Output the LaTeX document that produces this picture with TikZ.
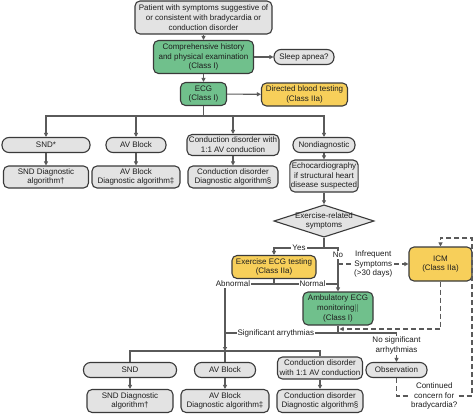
\documentclass[tikz,border=0pt]{standalone}
\usepackage{fontspec}
\setmainfont{Liberation Sans}
\setsansfont{Liberation Sans}
\usepackage{tikz}
\usetikzlibrary{arrows.meta,positioning,shapes.geometric,calc}
\definecolor{boxgray}{HTML}{E3E3E3}
\definecolor{edgegray}{HTML}{3A3A3A}
\definecolor{linegray}{HTML}{5A5A5A}
\definecolor{classgreen}{HTML}{70C08C}
\definecolor{classyellow}{HTML}{F7CF5A}
\definecolor{txt}{HTML}{1E1E1E}
\tikzset{
  stepbox/.style={
    rectangle, draw=edgegray, fill=#1, line width=1.1pt,
    rounded corners=5pt, text=txt, align=center,
    inner sep=1pt
  },
  stepbox/.default=boxgray,
  pillbox/.style={stepbox, rounded corners=7pt, minimum height=15pt},
  decision/.style={diamond, draw=edgegray, fill=boxgray, line width=1.1pt,
    aspect=3.1, inner xsep=-5.5pt, inner ysep=0pt, text=txt, align=center,
    minimum width=100pt, minimum height=32pt},
  flow/.style={
    -{Triangle[length=4pt,width=4pt]}, line width=1.1pt, draw=linegray
  },
  joinline/.style={line width=1.1pt, draw=linegray},
  dashflow/.style={flow, dash pattern=on 5pt off 3pt},
  edgelabel/.style={fill=white, inner sep=1pt, text=txt, align=center},
}

\begin{document}
\begin{tikzpicture}[
  x=1pt, y=-1pt,
  every node/.style={font=\fontsize{8}{9.8}\selectfont}
]
\useasboundingbox (0,0) rectangle (474,413);

\node[stepbox, minimum width=137pt, minimum height=33pt] (patient) at (203.5,17.5)
  {Patient with symptoms suggestive of\\or consistent with bradycardia or\\conduction disorder};
\node[stepbox=classgreen, minimum width=100pt, minimum height=33pt] (history) at (203.5,57)
  {Comprehensive history\\and physical examination\\(Class I)};
\node[pillbox, minimum width=60pt] (apnea) at (304,57) {Sleep apnea?};
\node[stepbox=classgreen, minimum width=46pt, minimum height=23pt] (ecg) at (203.5,94)
  {ECG\\(Class I)};
\node[stepbox=classyellow, minimum width=86pt, minimum height=23pt] (blood) at (304.5,94.5)
  {Directed blood testing\\(Class IIa)};

\node[pillbox, minimum width=88pt] (snd) at (46,145) {SND*};
\node[pillbox, minimum width=60pt] (avb) at (136,145) {AV Block};
\node[stepbox, minimum width=92pt, minimum height=21pt] (cond) at (233,145)
  {Conduction disorder with\\1:1 AV conduction};
\node[pillbox, minimum width=62pt] (nondiag) at (324,145) {Nondiagnostic};

\node[stepbox, minimum width=85pt, minimum height=22pt] (snd-alg) at (46,177)
  {SND Diagnostic\\algorithm†};
\node[stepbox, minimum width=88pt, minimum height=22pt] (avb-alg) at (136,177)
  {AV Block\\Diagnostic algorithm‡};
\node[stepbox, minimum width=90pt, minimum height=22pt] (cond-alg) at (233,177)
  {Conduction disorder\\Diagnostic algorithm§};
\node[stepbox, minimum width=68pt, minimum height=32pt] (echo) at (324,176)
  {Echocardiography\\if structural heart\\disease suspected};

\node[decision] (exsym) at (324,221) {Exercise-related\\symptoms};

\node[stepbox=classyellow, minimum width=84pt, minimum height=23pt] (exercise) at (274,267)
  {Exercise ECG testing\\(Class IIa)};
\node[stepbox=classyellow, minimum width=63pt, minimum height=34pt] (icm) at (440.5,264)
  {ICM\\(Class IIa)};
\node[stepbox=classgreen, minimum width=70pt, minimum height=33pt] (holter) at (338,308.5)
  {Ambulatory ECG\\monitoring$\Vert$\\(Class I)};

\node[pillbox, minimum width=93pt] (snd2) at (130,370) {SND};
\node[pillbox, minimum width=61pt] (avb2) at (225,370) {AV Block};
\node[stepbox, minimum width=85pt, minimum height=22pt] (cond2) at (320,368)
  {Conduction disorder\\with 1:1 AV conduction};
\node[pillbox, minimum width=61pt] (observe) at (396.5,370) {Observation};

\node[stepbox, minimum width=86pt, minimum height=23pt] (snd2-alg) at (130,401)
  {SND Diagnostic\\algorithm†};
\node[stepbox, minimum width=88pt, minimum height=23pt] (avb2-alg) at (225,401)
  {AV Block\\Diagnostic algorithm‡};
\node[stepbox, minimum width=86pt, minimum height=23pt] (cond2-alg) at (320,401)
  {Conduction disorder\\Diagnostic algorithm§};

\coordinate (bus1) at (203.5,116);
\coordinate (split) at (324,248);
\coordinate (nobend) at (338,248);
\coordinate (infreq) at (338,264);
\coordinate (exit) at (274,284);
\coordinate (normal) at (338,284);
\coordinate (merge) at (338,333);
\coordinate (sigleft) at (225,333);
\coordinate (bus2) at (225,351);
\coordinate (icmback) at (339.5,329);
\coordinate (loopright) at (472,396);
\coordinate (icmtop) at (440.5,238);

\draw[flow] (patient) -- (history);
\draw[flow] (history) -- (ecg);
\draw[flow] (history) -- (apnea);
\draw[flow] (ecg) -- (blood);
\draw[joinline] (ecg) -- (bus1);
\foreach \n in {snd,avb,cond,nondiag}
  \draw[flow] (bus1) -| (\n);
\foreach \a/\b in {snd/snd-alg,avb/avb-alg,cond/cond-alg,nondiag/echo,echo/exsym,
                   snd2/snd2-alg,avb2/avb2-alg,cond2/cond2-alg}
  \draw[flow] (\a) -- (\b);

\draw[joinline] (exsym) -- (split);
\draw[flow] (split) -| node[edgelabel, pos=0.25] {Yes} (exercise);
\draw[flow] (split) -- (nobend) -- node[edgelabel, pos=0.16] {No} (holter);
\draw[joinline] (exercise) -- (exit);
\draw[flow] (exit) -| node[edgelabel, pos=0.5, xshift=8pt] {Abnormal} (bus2);
\draw[joinline] (exit) -- node[edgelabel, pos=0.6] {Normal} (normal);

\draw[joinline] (holter) -- (merge);
\draw[joinline] (merge) -- node[edgelabel, pos=0.55] {Significant arrythmias} (sigleft);
\draw[flow] (merge) -| node[edgelabel, pos=0.72] {No significant\\arrhythmias} (observe);
\draw[joinline] (bus2) -| (snd2);
\draw[joinline] (bus2) -| (cond2);
\draw[joinline] (bus2) -- (avb2);

\draw[dashflow] (infreq) -- node[edgelabel] {Infrequent\\Symptoms\\(>30 days)} (icm);
\draw[dashflow] (icm) |- (icmback);
\draw[dashflow] (observe) |- node[edgelabel, pos=0.75] {Continued\\concern for\\bradycardia?} (loopright)
  |- (icmtop) -- (icm);
\end{tikzpicture}
\end{document}
